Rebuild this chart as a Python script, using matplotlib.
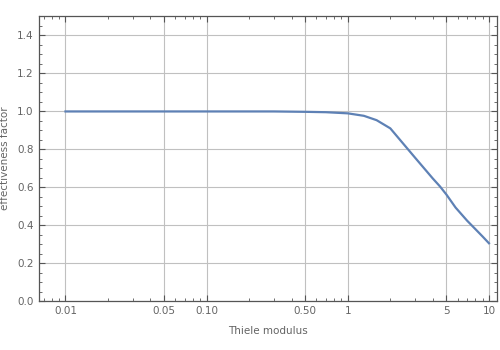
import matplotlib
matplotlib.use("Agg")
import matplotlib.pyplot as plt
from matplotlib.ticker import FixedLocator, LogLocator, MultipleLocator, NullFormatter

# Effectiveness factor vs Thiele modulus
thiele = [0.01, 0.05, 0.1, 0.3, 0.5, 0.7, 1.0, 1.3, 1.6, 2.0, 3.0, 4.0, 4.5, 5.0, 5.8, 7.0, 8.0, 9.0, 10.0]
effectiveness = [0.998, 0.998, 0.998, 0.998, 0.996, 0.994, 0.988, 0.975, 0.952, 0.909,
                 0.754, 0.645, 0.603, 0.56, 0.492, 0.423, 0.379, 0.340, 0.304]

x_ticks = [0.01, 0.05, 0.1, 0.5, 1, 5, 10]
x_tick_labels = ["0.01", "0.05", "0.10", "0.50", "1", "5", "10"]
y_ticks = [0.0, 0.2, 0.4, 0.6, 0.8, 1.0, 1.2, 1.4]

fig = plt.figure(figsize=(5, 3.5), dpi=100)
ax = fig.add_axes([0.077, 0.14, 0.917, 0.814])

ax.plot(thiele, effectiveness, color="#5E81B5", lw=1.6, solid_joinstyle="round", zorder=3)

ax.set_xscale("log")
ax.set_xlim(0.00644, 11.4)
ax.set_ylim(0, 1.5)

ax.xaxis.set_major_locator(FixedLocator(x_ticks))
ax.set_xticklabels(x_tick_labels)
ax.xaxis.set_minor_locator(LogLocator(base=10, subs=[2, 3, 4, 6, 7, 8, 9]))
ax.xaxis.set_minor_formatter(NullFormatter())
ax.yaxis.set_major_locator(FixedLocator(y_ticks))
ax.set_yticklabels([f"{v:.1f}" for v in y_ticks])
ax.yaxis.set_minor_locator(MultipleLocator(0.05))

grey = "#646464"
ax.tick_params(which="both", direction="in", top=True, right=True, colors="#555555",
               labelcolor=grey, labelsize=7.5)
ax.tick_params(which="major", length=4, width=0.8)
ax.tick_params(which="minor", length=2.3, width=0.6)
for s in ax.spines.values():
    s.set_color("#555555")
    s.set_linewidth(0.9)

ax.grid(True, which="major", color="#C0C0C0", lw=0.8)
ax.set_axisbelow(True)

ax.set_xlabel("Thiele modulus", color=grey, fontsize=7.5, labelpad=7)
ax.set_ylabel("effectiveness factor", color=grey, fontsize=7.5, labelpad=5)

fig.savefig("out.png", dpi=100)
